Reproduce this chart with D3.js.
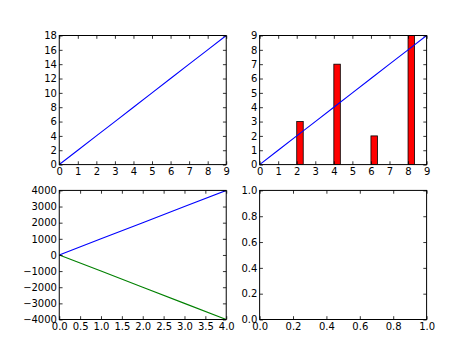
<!DOCTYPE html>
<html><head><meta charset="utf-8">
<script src="https://cdn.jsdelivr.net/npm/d3@7"></script>
<style>html,body{margin:0;padding:0;background:#fff;}svg{display:block;}</style>
</head><body>
<script>
// ---- data ----
const lineX1 = [0,1,2,3,4,5,6,7,8,9];
const lineY1 = [0,2,4,6,8,10,12,14,16,18];
const ticksX1 = [0,1,2,3,4,5,6,7,8,9];
const ticksY1 = [0,2,4,6,8,10,12,14,16,18];

const barX = [2,4,6,8];
const barH = [3,7,2,9];
const barWidth = 0.35;
const lineX2 = [0,1,2,3,4,5,6,7,8,9];
const lineY2 = [0,1,2,3,4,5,6,7,8,9];
const ticksX2 = [0,1,2,3,4,5,6,7,8,9];
const ticksY2 = [0,1,2,3,4,5,6,7,8,9];

const lineX3 = [0,1,2,3,4];
const lineY3a = [0,1000,2000,3000,4000];
const lineY3b = [0,-1000,-2000,-3000,-4000];
const ticksX3 = [0,0.5,1,1.5,2,2.5,3,3.5,4];
const ticksY3 = [-4000,-3000,-2000,-1000,0,1000,2000,3000,4000];

const ticksX4 = [0,0.2,0.4,0.6,0.8,1];
const ticksY4 = [0,0.2,0.4,0.6,0.8,1];

// ---- layout ----
const W = 474, H = 355;
const svg = d3.select("body").append("svg").attr("width", W).attr("height", H);
svg.append("rect").attr("width", W).attr("height", H).attr("fill", "#fff");

const L = 59.25, R = 426.6, T = 35.5, B = 319.5;
const aw = (R - L) / 2.2, ah = (B - T) / 2.2;
const font = "'DejaVu Sans', sans-serif";
const fs = 10;
const tickLen = 3.3;

function makeAxes(col, row, xd, yd, xt, yt, fmtX, fmtY) {
  const x0 = L + col * aw * 1.2, y0 = T + row * ah * 1.2;
  const g = svg.append("g");
  const xs = d3.scaleLinear().domain(xd).range([x0, x0 + aw]);
  const ys = d3.scaleLinear().domain(yd).range([y0 + ah, y0]);
  const clipId = "clip" + col + row;
  svg.append("clipPath").attr("id", clipId).append("rect")
    .attr("x", x0).attr("y", y0).attr("width", aw).attr("height", ah);
  const plot = g.append("g").attr("clip-path", "url(#" + clipId + ")");
  const frame = g.append("g");
  // inward ticks on all four sides; with negative tickSize d3 offsets labels by tickPadding only
  const bottom = d3.axisBottom(xs).tickValues(xt).tickSize(-tickLen).tickPadding(3.4).tickFormat(fmtX);
  const top = d3.axisTop(xs).tickValues(xt).tickSize(-tickLen).tickFormat("");
  const left = d3.axisLeft(ys).tickValues(yt).tickSize(-tickLen).tickPadding(2.3).tickFormat(fmtY);
  const right = d3.axisRight(ys).tickValues(yt).tickSize(-tickLen).tickFormat("");
  const styleAx = sel => {
    sel.select(".domain").remove();
    sel.selectAll("line").attr("stroke", "#000").attr("stroke-width", 0.8);
    sel.selectAll("text").attr("fill", "#000").style("font-family", font).style("font-size", fs + "px");
  };
  frame.append("g").attr("transform", `translate(0,${y0 + ah})`).call(bottom).call(styleAx);
  frame.append("g").attr("transform", `translate(0,${y0})`).call(top).call(styleAx);
  frame.append("g").attr("transform", `translate(${x0},0)`).call(left).call(styleAx);
  frame.append("g").attr("transform", `translate(${x0 + aw},0)`).call(right).call(styleAx);
  frame.append("rect").attr("x", x0).attr("y", y0).attr("width", aw).attr("height", ah)
    .attr("fill", "none").attr("stroke", "#000").attr("stroke-width", 1);
  return {plot, xs, ys};
}

const minus = s => s.replace("-", "\u2212");
const fInt = d => minus(d3.format("d")(d));
const f1 = d => minus(d3.format(".1f")(d));

function drawLine(ax, xs, ys, color) {
  const pts = xs.map((v, i) => [v, ys[i]]);
  ax.plot.append("path").datum(pts)
    .attr("d", d3.line().x(d => ax.xs(d[0])).y(d => ax.ys(d[1])))
    .attr("fill", "none").attr("stroke", color).attr("stroke-width", 1.1);
}

// top-left
const a1 = makeAxes(0, 0, [0, 9], [0, 18], ticksX1, ticksY1, fInt, fInt);
drawLine(a1, lineX1, lineY1, "#0000ff");

// top-right
const a2 = makeAxes(1, 0, [0, 9], [0, 9], ticksX2, ticksY2, fInt, fInt);
a2.plot.selectAll("rect.bar").data(barX).enter().append("rect")
  .attr("x", d => a2.xs(d))
  .attr("width", d => a2.xs(d + barWidth) - a2.xs(d))
  .attr("y", (d, i) => a2.ys(barH[i]))
  .attr("height", (d, i) => a2.ys(0) - a2.ys(barH[i]))
  .attr("fill", "#ff0000").attr("stroke", "#000").attr("stroke-width", 0.8);
drawLine(a2, lineX2, lineY2, "#0000ff");

// bottom-left
const a3 = makeAxes(0, 1, [0, 4], [-4000, 4000], ticksX3, ticksY3, f1, fInt);
drawLine(a3, lineX3, lineY3a, "#0000ff");
drawLine(a3, lineX3, lineY3b, "#008000");

// bottom-right
makeAxes(1, 1, [0, 1], [0, 1], ticksX4, ticksY4, f1, f1);
</script>
</body></html>
